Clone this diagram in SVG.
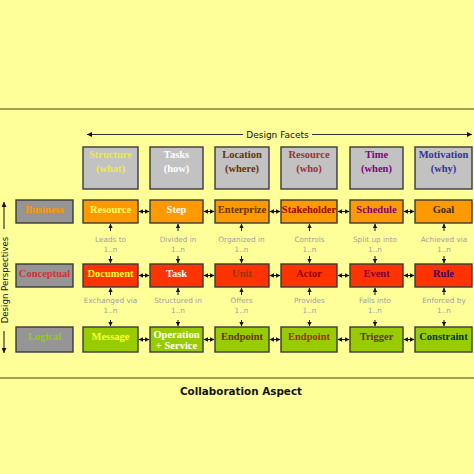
<svg xmlns="http://www.w3.org/2000/svg" width="474" height="474" viewBox="0 0 474 474">
<defs>
<marker id="ah" viewBox="0 0 8 8" refX="8" refY="4" markerWidth="4.6" markerHeight="4.6" markerUnits="userSpaceOnUse" orient="auto-start-reverse">
<path d="M0,0 L8,4 L0,8 Z" fill="#111"/>
</marker>
<marker id="ahs" viewBox="0 0 8 8" refX="8" refY="4" markerWidth="5" markerHeight="5" markerUnits="userSpaceOnUse" orient="auto-start-reverse">
<path d="M0,0 L8,4 L0,8 Z" fill="#111"/>
</marker>
</defs>
<style>
.bg{fill:#FFFF99}
.rule{stroke:#808040;stroke-width:1.6;fill:none}
.hdr{fill:#C2C2C2;stroke:#3a3a3a;stroke-width:1.4}
.lab{fill:#959595;stroke:#3a3a3a;stroke-width:1.4}
.or{fill:#FF9900;stroke:#3a3a3a;stroke-width:1.4}
.rd{fill:#FF3300;stroke:#3a3a3a;stroke-width:1.4}
.gr{fill:#99CC00;stroke:#3a3a3a;stroke-width:1.4}
.t{font-family:"Liberation Serif",serif;font-weight:bold;font-size:10.5px;text-anchor:middle}
.c{font-family:"DejaVu Sans",sans-serif;font-size:7.3px;fill:#A0A0A0;text-anchor:middle}
.ttl{font-family:"DejaVu Sans",sans-serif;fill:#111;text-anchor:middle}
.hv{stroke:#111;stroke-width:1;fill:none;marker-start:url(#ah);marker-end:url(#ah)}
.vu{stroke:#111;stroke-width:1;fill:none;marker-end:url(#ah)}
</style>
<rect class="bg" x="0" y="0" width="474" height="474"/>
<line class="rule" x1="0" y1="109" x2="474" y2="109"/>
<line class="rule" x1="0" y1="378" x2="474" y2="378"/>

<g id="design-facets">
<line x1="87" y1="134.5" x2="243" y2="134.5" stroke="#333" stroke-width="1" marker-start="url(#ahs)"/>
<line x1="312" y1="134.5" x2="472" y2="134.5" stroke="#333" stroke-width="1" marker-end="url(#ahs)"/>
<text class="ttl" x="277.5" y="137.5" font-size="9">Design Facets</text>
</g>
<g id="design-perspectives">
<line x1="4" y1="229" x2="4" y2="202" stroke="#111" stroke-width="1" marker-end="url(#ahs)"/>
<line x1="4" y1="331" x2="4" y2="353" stroke="#111" stroke-width="1" marker-end="url(#ahs)"/>
<text class="ttl" transform="translate(8,280) rotate(-90)" font-size="8.6">Design Perspectives</text>
</g>
<g id="collaboration-aspect">
<text class="ttl" x="241" y="394.5" font-size="11" font-weight="bold" textLength="122" lengthAdjust="spacingAndGlyphs">Collaboration Aspect</text>
</g>

<g id="connectors">
<line class="hv" x1="138.7" y1="211.5" x2="149.3" y2="211.5"/>
<line class="hv" x1="203.7" y1="211.5" x2="214.3" y2="211.5"/>
<line class="hv" x1="269.7" y1="211.5" x2="280.3" y2="211.5"/>
<line class="hv" x1="337.7" y1="211.5" x2="349.3" y2="211.5"/>
<line class="hv" x1="403.7" y1="211.5" x2="414.3" y2="211.5"/>
<line class="hv" x1="138.7" y1="275.5" x2="149.3" y2="275.5"/>
<line class="hv" x1="203.7" y1="275.5" x2="214.3" y2="275.5"/>
<line class="hv" x1="269.7" y1="275.5" x2="280.3" y2="275.5"/>
<line class="hv" x1="337.7" y1="275.5" x2="349.3" y2="275.5"/>
<line class="hv" x1="403.7" y1="275.5" x2="414.3" y2="275.5"/>
<line class="hv" x1="138.7" y1="339.5" x2="149.3" y2="339.5"/>
<line class="hv" x1="203.7" y1="339.5" x2="214.3" y2="339.5"/>
<line class="hv" x1="269.7" y1="339.5" x2="280.3" y2="339.5"/>
<line class="hv" x1="337.7" y1="339.5" x2="349.3" y2="339.5"/>
<line class="hv" x1="403.7" y1="339.5" x2="414.3" y2="339.5"/>

<line class="vu" x1="110.5" y1="231" x2="110.5" y2="223.8"/>
<line class="vu" x1="110.5" y1="256" x2="110.5" y2="263.2"/>
<line class="vu" x1="110.5" y1="295" x2="110.5" y2="287.8"/>
<line class="vu" x1="110.5" y1="320" x2="110.5" y2="326.2"/>
<line class="vu" x1="178" y1="231" x2="178" y2="223.8"/>
<line class="vu" x1="178" y1="256" x2="178" y2="263.2"/>
<line class="vu" x1="178" y1="295" x2="178" y2="287.8"/>
<line class="vu" x1="178" y1="320" x2="178" y2="326.2"/>
<line class="vu" x1="241.5" y1="231" x2="241.5" y2="223.8"/>
<line class="vu" x1="241.5" y1="256" x2="241.5" y2="263.2"/>
<line class="vu" x1="241.5" y1="295" x2="241.5" y2="287.8"/>
<line class="vu" x1="241.5" y1="320" x2="241.5" y2="326.2"/>
<line class="vu" x1="309.5" y1="231" x2="309.5" y2="223.8"/>
<line class="vu" x1="309.5" y1="256" x2="309.5" y2="263.2"/>
<line class="vu" x1="309.5" y1="295" x2="309.5" y2="287.8"/>
<line class="vu" x1="309.5" y1="320" x2="309.5" y2="326.2"/>
<line class="vu" x1="375" y1="231" x2="375" y2="223.8"/>
<line class="vu" x1="375" y1="256" x2="375" y2="263.2"/>
<line class="vu" x1="375" y1="295" x2="375" y2="287.8"/>
<line class="vu" x1="375" y1="320" x2="375" y2="326.2"/>
<line class="vu" x1="444" y1="231" x2="444" y2="223.8"/>
<line class="vu" x1="444" y1="256" x2="444" y2="263.2"/>
<line class="vu" x1="444" y1="295" x2="444" y2="287.8"/>
<line class="vu" x1="444" y1="320" x2="444" y2="326.2"/>

<text class="c" x="110.5" y="241.5">Leads to</text><text class="c" x="110.5" y="251.5">1..n</text>
<text class="c" x="110.5" y="302.5">Exchanged via</text><text class="c" x="110.5" y="312.5">1..n</text>
<text class="c" x="178" y="241.5">Divided in</text><text class="c" x="178" y="251.5">1..n</text>
<text class="c" x="178" y="302.5">Structured in</text><text class="c" x="178" y="312.5">1..n</text>
<text class="c" x="241.5" y="241.5">Organized in</text><text class="c" x="241.5" y="251.5">1..n</text>
<text class="c" x="241.5" y="302.5">Offers</text><text class="c" x="241.5" y="312.5">1..n</text>
<text class="c" x="309.5" y="241.5">Controls</text><text class="c" x="309.5" y="251.5">1..n</text>
<text class="c" x="309.5" y="302.5">Provides</text><text class="c" x="309.5" y="312.5">1..n</text>
<text class="c" x="375" y="241.5">Split up into</text><text class="c" x="375" y="251.5">1..n</text>
<text class="c" x="375" y="302.5">Falls into</text><text class="c" x="375" y="312.5">1..n</text>
<text class="c" x="444" y="241.5">Achieved via</text><text class="c" x="444" y="251.5">1..n</text>
<text class="c" x="444" y="302.5">Enforced by</text><text class="c" x="444" y="312.5">1..n</text>
</g>

<g id="h-structure"><rect class="hdr" x="83" y="147" width="55" height="42"/><text class="t" x="110.5" y="158" fill="#EEEE30">Structure</text><text class="t" x="110.5" y="171.5" fill="#EEEE30">(what)</text></g>
<g id="h-tasks"><rect class="hdr" x="150" y="147" width="53" height="42"/><text class="t" x="176.5" y="158" fill="#FFFFFF">Tasks</text><text class="t" x="176.5" y="171.5" fill="#FFFFFF">(how)</text></g>
<g id="h-location"><rect class="hdr" x="215" y="147" width="54" height="42"/><text class="t" x="242" y="158" fill="#663300">Location</text><text class="t" x="242" y="171.5" fill="#663300">(where)</text></g>
<g id="h-resource"><rect class="hdr" x="281" y="147" width="56" height="42"/><text class="t" x="309" y="158" fill="#993333">Resource</text><text class="t" x="309" y="171.5" fill="#993333">(who)</text></g>
<g id="h-time"><rect class="hdr" x="350" y="147" width="53" height="42"/><text class="t" x="376.5" y="158" fill="#800080">Time</text><text class="t" x="376.5" y="171.5" fill="#800080">(when)</text></g>
<g id="h-motivation"><rect class="hdr" x="415" y="147" width="57" height="42"/><text class="t" x="443.5" y="158" fill="#333399">Motivation</text><text class="t" x="443.5" y="171.5" fill="#333399">(why)</text></g>

<g id="p-business"><rect class="lab" x="16" y="200" width="57" height="23"/><text class="t" x="44.5" y="212.5" fill="#FF9900">Business</text></g>
<g id="p-conceptual"><rect class="lab" x="16" y="264" width="57" height="23"/><text class="t" x="44.5" y="276.5" fill="#CC3333">Conceptual</text></g>
<g id="p-logical"><rect class="lab" x="16" y="327" width="57" height="25"/><text class="t" x="44.5" y="340" fill="#99CC00">Logical</text></g>

<g id="b-resource"><rect class="or" x="83" y="200" width="55" height="23"/><text class="t" x="110.5" y="212.5" fill="#FFFF66">Resource</text></g>
<g id="b-step"><rect class="or" x="150" y="200" width="53" height="23"/><text class="t" x="176.5" y="212.5" fill="#FFFFFF">Step</text></g>
<g id="b-enterprize"><rect class="or" x="215" y="200" width="54" height="23"/><text class="t" x="242" y="212.5" fill="#663300">Enterprize</text></g>
<g id="b-stakeholder"><rect class="or" x="281" y="200" width="56" height="23"/><text class="t" x="309" y="212.5" fill="#990000">Stakeholder</text></g>
<g id="b-schedule"><rect class="or" x="350" y="200" width="53" height="23"/><text class="t" x="376.5" y="212.5" fill="#800080">Schedule</text></g>
<g id="b-goal"><rect class="or" x="415" y="200" width="57" height="23"/><text class="t" x="443.5" y="212.5" fill="#3D2A14">Goal</text></g>

<g id="c-document"><rect class="rd" x="83" y="264" width="55" height="23"/><text class="t" x="110.5" y="276.5" fill="#FFFF33">Document</text></g>
<g id="c-task"><rect class="rd" x="150" y="264" width="53" height="23"/><text class="t" x="176.5" y="276.5" fill="#FFFFFF">Task</text></g>
<g id="c-unit"><rect class="rd" x="215" y="264" width="54" height="23"/><text class="t" x="242" y="276.5" fill="#993300">Unit</text></g>
<g id="c-actor"><rect class="rd" x="281" y="264" width="56" height="23"/><text class="t" x="309" y="276.5" fill="#990000">Actor</text></g>
<g id="c-event"><rect class="rd" x="350" y="264" width="53" height="23"/><text class="t" x="376.5" y="276.5" fill="#800040">Event</text></g>
<g id="c-rule"><rect class="rd" x="415" y="264" width="57" height="23"/><text class="t" x="443.5" y="276.5" fill="#330066">Rule</text></g>

<g id="l-message"><rect class="gr" x="83" y="327" width="55" height="25"/><text class="t" x="110.5" y="339.5" fill="#FFFF33">Message</text></g>
<g id="l-operation"><rect class="gr" x="150" y="327" width="53" height="25"/><text class="t" x="176.5" y="337.5" fill="#FFFFFF">Operation</text><text class="t" x="176.5" y="348.5" fill="#FFFFFF">+ Service</text></g>
<g id="l-endpoint1"><rect class="gr" x="215" y="327" width="54" height="25"/><text class="t" x="242" y="339.5" fill="#663300">Endpoint</text></g>
<g id="l-endpoint2"><rect class="gr" x="281" y="327" width="56" height="25"/><text class="t" x="309" y="339.5" fill="#993300">Endpoint</text></g>
<g id="l-trigger"><rect class="gr" x="350" y="327" width="53" height="25"/><text class="t" x="376.5" y="339.5" fill="#663333">Trigger</text></g>
<g id="l-constraint"><rect class="gr" x="415" y="327" width="57" height="25"/><text class="t" x="443.5" y="339.5" fill="#003333">Constraint</text></g>
</svg>
